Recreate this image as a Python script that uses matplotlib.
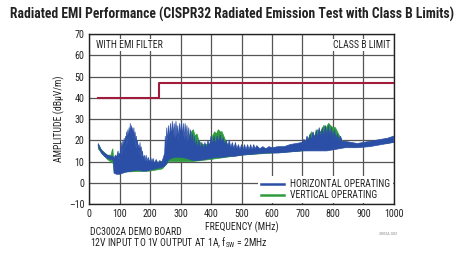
import numpy as np
import matplotlib
matplotlib.use("Agg")
import matplotlib.pyplot as plt

plt.rcParams['font.family'] = ['Roboto Condensed', 'Liberation Sans', 'DejaVu Sans']

# Class B limit (MHz, dBuV/m)
limit_freq = [30, 230, 230, 1000]
limit_db = [40, 40, 47, 47]

# Horizontal operating: upper envelope (peaks and notches)
h_hi_freq = [30, 35, 40, 50, 60, 70, 76, 80, 82, 86, 90,
             95, 97, 99, 101, 103, 105, 107, 109, 111, 113, 115, 117, 119, 121, 123, 125, 127, 129,
             131, 133, 135, 137, 139, 141, 143, 145, 147, 149, 151, 153, 155, 157, 159, 161, 163,
             165, 167, 169, 171, 173, 175, 178, 181, 184, 187, 190, 194, 198, 202, 206, 210, 215,
             220, 226, 232, 238, 244, 248,
             250, 252, 255, 258, 261, 264, 267, 270, 273, 276, 279, 282, 285, 288, 291, 294, 297,
             300, 303, 306, 309, 312, 315, 318, 321, 324, 327, 330, 333, 336, 339, 342, 345, 348,
             352, 356, 360, 365, 370, 375, 380, 385, 390, 395, 400, 405, 410, 415, 420, 425, 430,
             435, 440, 445, 450, 455, 460, 465, 470, 475, 480, 485, 490, 495, 500, 505, 510, 515,
             520, 525, 530, 535, 540, 545, 550, 560, 570, 580, 590, 600, 620, 640, 660, 680, 700,
             705, 710, 715, 720, 725, 730, 735, 740, 745, 750, 755, 760, 765, 770, 775, 780, 785,
             790, 795, 800, 805, 810, 815, 820, 825, 830, 840, 860, 880, 900, 920, 940, 960, 980,
             1000]
h_hi_db = [18.5, 17, 15.5, 14, 13, 12.5, 12.5, 12, 11.5, 13, 12,
           15, 11, 14, 11, 17, 13, 19, 14, 20, 15, 21, 16, 22, 17, 24, 18, 25, 19,
           26, 20, 28, 22, 27, 21, 26, 20, 26, 19, 24, 17, 22, 16, 20, 14, 18,
           13, 19, 13, 17, 12, 15, 11, 13, 10, 13, 10, 12, 9.5, 12, 9.5, 11.5, 9,
           11, 9, 10.5, 9.5, 12, 14,
           22, 16, 26, 19, 27, 20, 28, 21, 29, 22, 28, 21, 29, 22, 27, 20, 28,
           22, 29, 21, 28, 20, 28, 21, 27, 19, 26, 19, 25, 18, 23, 17, 22, 17,
           20, 16, 20, 16, 19, 16, 19, 16, 20, 17, 22, 18, 22, 18, 22, 19, 22.5,
           19, 21, 18, 20, 17, 20, 16.5, 19, 16, 19, 16, 18, 15.5, 18, 15.5, 18, 15.5,
           18, 15.5, 18, 15.5, 18, 16, 17.5, 16, 17, 16, 17, 16.5, 17, 17, 18, 18.5, 19,
           20.5, 19, 22, 19.5, 23, 20, 24, 20.5, 25, 21, 26, 21.5, 26, 22, 27, 22, 27,
           22, 26, 21, 25, 20.5, 23, 20, 22, 19.5, 19.5, 19, 18.5, 19, 19.5, 20, 20.5, 21,
           22]

# Horizontal operating: lower envelope
h_lo_freq = [30, 35, 40, 50, 60, 70, 76, 80, 82, 90, 100, 110, 120, 140, 160, 175, 190, 200,
             215, 230, 245, 252, 262, 280, 300, 320, 340, 360, 380, 400, 420, 440, 460, 480,
             500, 540, 580, 620, 660, 700, 740, 780, 800, 840, 880, 920, 960, 1000]
h_lo_db = [17.5, 15.5, 14, 12.5, 11.5, 11, 11, 10, 4.5, 4, 4, 4.5, 5, 5.5, 6, 5.5, 5.5, 6,
           6.5, 7, 7.5, 8.5, 11, 12, 12, 11.5, 10.5, 10.5, 11, 11.5, 12, 12, 12.5, 12.5,
           13, 13.5, 14, 14, 14.5, 15, 15, 15, 15.5, 16.5, 16.5, 17, 18, 19]

# Vertical operating: upper envelope
v_hi_freq = [30, 40, 60, 72, 76, 78, 80, 84, 100, 150, 200, 240, 262, 300, 324, 330, 336,
             342, 348, 354, 360, 370, 395, 405, 412, 418, 424, 430, 436, 442, 450, 460, 500,
             600, 700, 720, 730, 740, 750, 760, 770, 778, 786, 792, 800, 808, 815, 822, 830,
             850, 1000]
v_hi_db = [18, 15.5, 13, 13, 15.5, 16, 12, 10.5, 10, 12, 9, 10, 15, 16, 17, 22, 24,
           25, 22, 23, 20, 18, 18, 22, 24, 23, 25, 24, 24, 22, 19, 17, 15.5,
           16, 17, 21, 24, 22, 25, 24, 27, 26, 28, 27, 26, 26, 24, 22, 20,
           17, 19]

# Vertical operating: lower envelope
v_lo_freq = [30, 60, 80, 82, 100, 200, 240, 262, 280, 320, 340, 400, 500, 700, 1000]
v_lo_db = [16, 11, 9, 5, 5, 5.5, 6.5, 10, 10, 10, 10, 11, 13, 15, 19]

blue = '#2b4fa6'
green = '#2f9a3e'
limit_red = '#a01c3a'
ink = '#222222'

fig = plt.figure(figsize=(4.74, 2.56), dpi=100)
ax = fig.add_axes([0.188, 0.203, 0.643, 0.664])

ax.fill(np.concatenate([v_hi_freq, v_lo_freq[::-1]]),
        np.concatenate([v_hi_db, v_lo_db[::-1]]),
        color=green, lw=0.5, zorder=3)
ax.fill(np.concatenate([h_hi_freq, h_lo_freq[::-1]]),
        np.concatenate([h_hi_db, h_lo_db[::-1]]),
        color=blue, lw=0.5, zorder=4)
ax.plot(limit_freq, limit_db, color=limit_red, lw=1.5, zorder=5)

# legend proxies
ax.plot([], [], color=blue, lw=1.8, label='HORIZONTAL OPERATING')
ax.plot([], [], color=green, lw=1.8, label='VERTICAL OPERATING')
leg = ax.legend(loc='lower right', fontsize=7, frameon=True, fancybox=False,
                borderaxespad=0.1, handlelength=2.4, handletextpad=0.6,
                labelspacing=0.1, borderpad=0.3)
leg.get_frame().set_edgecolor('none')
leg.get_frame().set_facecolor('white')
leg.get_frame().set_alpha(1)
leg.set_zorder(6)
for t in leg.get_texts():
    t.set_color(ink)

ax.set_xlim(0, 1000)
ax.set_ylim(-10, 70)
ax.set_xticks(np.arange(0, 1001, 100))
ax.set_yticks(np.arange(-10, 71, 10))
ax.set_yticklabels(['\u201310'] + [str(v) for v in range(0, 71, 10)])
ax.grid(True, color='#555555', lw=0.9, zorder=1)
ax.set_axisbelow(True)
ax.tick_params(length=0, labelsize=7.2, pad=3.5, colors=ink)
for s in ax.spines.values():
    s.set_color(ink)
    s.set_linewidth(1)

ax.set_xlabel('FREQUENCY (MHz)', fontsize=7, color=ink)
ax.xaxis.set_label_coords(0.5, -0.105)
ax.set_ylabel('AMPLITUDE (dB\u03bcV/m)', fontsize=7, color=ink)
ax.yaxis.set_label_coords(-0.08, 0.5)

box = dict(facecolor='white', edgecolor='none', pad=1)
ax.text(0.022, 0.965, 'WITH EMI FILTER', transform=ax.transAxes, ha='left', va='top',
        fontsize=7, color=ink, bbox=box, zorder=6)
ax.text(0.99, 0.965, 'CLASS B LIMIT', transform=ax.transAxes, ha='right', va='top',
        fontsize=7, color=ink, bbox=box, zorder=6)

fig.text(0.021, 0.945, 'Radiated EMI Performance (CISPR32 Radiated Emission Test with Class B Limits)',
         ha='left', va='center', fontsize=9.8, fontweight='bold', color=ink)
fig.text(0.19, 0.094, 'DC3002A DEMO BOARD', ha='left', va='center', fontsize=7, color=ink)
fig.text(0.19, 0.051, r'12V INPUT TO 1V OUTPUT AT 1A, f$_\mathregular{SW}$ = 2MHz',
         ha='left', va='center', fontsize=7, color=ink)
fig.text(0.8, 0.085, '3002A G02', ha='left', va='center', fontsize=3, color='#888888')

fig.savefig('out.png', dpi=100)
